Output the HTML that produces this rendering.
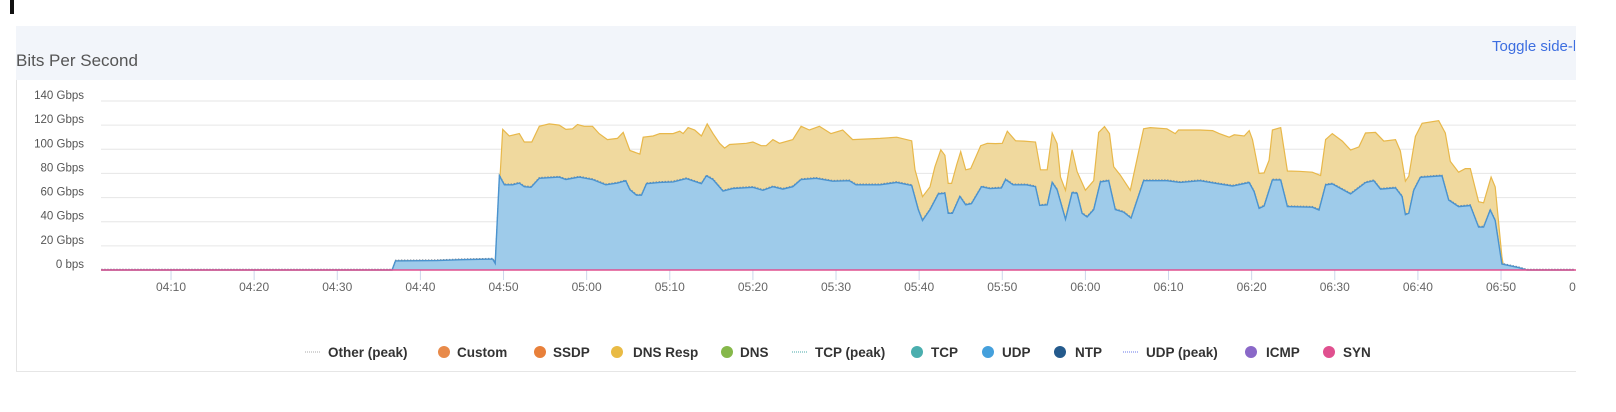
<!DOCTYPE html>
<html><head><meta charset="utf-8"><style>
html,body{margin:0;padding:0;background:#fff;}
body{width:1616px;height:412px;position:relative;overflow:hidden;font-family:"Liberation Sans",sans-serif;}
</style></head><body>
<div style="position:absolute;left:10px;top:0;width:4px;height:14px;background:#111"></div>
<div style="position:absolute;left:16px;top:26px;width:1560px;height:54px;background:#f2f5fa"></div>
<div style="position:absolute;left:16px;top:80px;width:1px;height:292px;background:#e4e4e4"></div>
<div style="position:absolute;left:16px;top:371px;width:1560px;height:1px;background:#e6e6e6"></div>
<div style="position:absolute;left:16px;top:51px;font-size:17px;color:#555">Bits Per Second</div>
<div style="position:absolute;left:1492px;top:38px;width:83px;overflow:hidden;white-space:nowrap;font-size:15px;color:#3d6ee0">Toggle side-bar</div>
<svg id="c" width="1576" height="412" style="position:absolute;left:0;top:0" xmlns="http://www.w3.org/2000/svg"></svg>
<script>
var s=document.getElementById('c');var h='';
function X(t){return 87.9+8.3125*t;}function Y(v){return 270-v*169/140;}
var lbl=['140 Gbps','120 Gbps','100 Gbps','80 Gbps','60 Gbps','40 Gbps','20 Gbps','0 bps'];
for(var i=0;i<8;i++){var y=Y(140-20*i);
 if(i<7)h+='<line x1="101" x2="1576" y1="'+y+'" y2="'+y+'" stroke="#e6e6e6"/>';
 h+='<text x="84" y="'+(y-2)+'" text-anchor="end" font-size="11.5" fill="#555" font-family="Liberation Sans">'+lbl[i]+'</text>';}
var tl=['04:10','04:20','04:30','04:40','04:50','05:00','05:10','05:20','05:30','05:40','05:50','06:00','06:10','06:20','06:30','06:40','06:50','07:00'];
for(var i=0;i<tl.length;i++){var x=X(10+10*i);
 h+='<line x1="'+x+'" x2="'+x+'" y1="270" y2="280" stroke="#ccd6eb"/>';
 h+='<text x="'+x+'" y="291" text-anchor="middle" font-size="12" fill="#666" font-family="Liberation Sans">'+tl[i]+'</text>';}
var Yw=[[1.6,0],[36.6,0],[37,7.5],[42,7.8],[45,8.5],[48.7,9],[49,5.5],[49.9,116.5],[50.7,111],[51.9,113],[52.5,106],[53.4,106],[54.3,119],[55.5,121],[56.7,120],[57.5,116.5],[58.3,117],[58.9,120.5],[59.7,119],[60.7,119],[61.5,113],[62.5,108],[63.7,109],[64.4,114],[65.2,99],[66.4,96],[66.8,110],[68,111],[68.8,113],[70.4,113],[71.2,115],[71.6,113],[72.2,118],[73,116],[73.8,111],[74.5,121],[75.2,113],[76,105],[76.6,101],[77.2,104],[79.2,105],[80,106],[81,103],[81.6,103],[82.4,108],[83.2,105],[84.8,108],[85.8,119],[86.8,116],[88,119],[89.4,113],[90.8,116],[92,108],[95.3,109],[97.3,110],[99.1,107],[99.5,83],[100.4,60.7],[101.3,68.9],[101.9,85.5],[102.6,99.6],[103.1,95],[103.5,71.7],[103.9,71.7],[104.5,87],[105,98],[105.6,83],[106.2,84],[107.4,103],[108.2,105],[109.2,104.7],[110,105],[110.6,115],[111.6,107],[112.6,106.8],[114,106],[114.6,83],[115.4,83],[116,113.5],[116.6,104.7],[117,77],[117.6,66],[118.4,99.6],[119,81.5],[120,66],[121,74],[121.6,114],[122.3,118.8],[122.9,113],[123.4,85.5],[124.2,78.6],[125.4,66],[127,117],[127.8,118],[129.8,117],[130.8,113],[131.2,116],[133.8,116],[135.3,115.5],[136.1,113],[137.3,110],[137.9,112],[139.1,111],[139.7,115.5],[140.1,108],[140.9,80],[141.5,80.4],[142.1,91],[142.5,116],[143.5,118],[144.3,82],[145.7,81.8],[147.3,81],[148.3,78.3],[148.9,108],[149.7,113],[150.9,106.8],[151.9,99.4],[152.9,102],[153.7,113.5],[154.9,114],[155.9,106.8],[157.3,108],[157.9,98.5],[158.5,73.6],[158.9,77.7],[159.7,110.7],[160.5,121.5],[162.5,123.7],[163.3,113.5],[163.9,90],[164.9,81],[165.7,84],[166.3,84],[167.3,56.6],[167.9,55.7],[168.8,77],[169.3,68.8],[170.1,11],[170.3,3],[172.1,2],[173.1,0],[178.8,0]];
var B=[[1.6,0],[36.6,0],[37,7.5],[42,7.8],[45,8.5],[48.7,9],[49,5.5],[49.5,78],[50.1,70.6],[51.1,70.6],[51.9,72],[52.5,69],[53.3,68.5],[54.3,76],[56.7,77],[57.5,75],[59.1,77],[60.7,75],[62.3,70.6],[63.7,72],[64.7,74],[65.2,66.5],[66,62],[66.6,62],[67.2,71.5],[68.8,72.6],[70.4,73],[72,75.7],[73.8,71.5],[74.4,78],[75.2,75],[76.4,65.4],[77.6,67.5],[80,68.5],[81.2,66],[82.4,69],[83.6,67],[84.8,69],[85.8,75],[87.6,76],[89.6,73.6],[91.6,74],[92.4,70.6],[95.3,70.6],[97.3,72.6],[99.1,70],[99.9,50],[100.4,41],[101.3,50],[102.3,63],[103.1,63.5],[103.5,47],[104,47],[104.9,61],[105.6,54],[106.3,55],[107.5,69],[108.5,67.4],[109.9,68],[110.4,75],[111.3,70.6],[112.9,70.6],[114,69],[114.5,53.5],[115.4,54],[116,72.6],[116.6,66.5],[117.6,42],[118.4,64],[119,63.5],[119.6,47],[120.2,44],[121,50],[121.8,73],[122.8,74],[123.6,50],[124.6,48],[125.5,43],[127,74],[129.8,74],[131.4,72.6],[133.8,74],[136.1,71.3],[137.7,69.6],[139.7,72.4],[140.3,65],[140.9,51],[141.5,53],[142.5,74.6],[143.5,74.6],[144.3,52.5],[147.3,52],[148.1,49.7],[148.9,70.5],[149.7,71.3],[151.9,63],[153.7,72.4],[154.7,74],[155.5,67],[157.3,68],[158.1,61],[158.5,45.8],[158.9,47],[159.5,66],[160.3,76.8],[162.9,78],[163.7,58],[164.9,52.5],[166.3,53.4],[167.3,35.5],[167.9,35.5],[168.7,49.7],[169.3,41],[170.1,5],[172.1,2],[173.1,0],[178.8,0]];
function line(a,dy){return a.map(function(p,i){return (i?'L':'M')+X(p[0]).toFixed(1)+','+(Y(p[1])+(dy||0)).toFixed(1);}).join('');}
function area(a){return line(a)+'L'+X(a[a.length-1][0]).toFixed(1)+',270L'+X(a[0][0]).toFixed(1)+',270Z';}
h+='<path d="'+area(Yw)+'" fill="#f0d99e"/>';
h+='<path d="'+line(Yw)+'" fill="none" stroke="#e8b84a" stroke-width="1.2"/>';
h+='<path d="'+area(B)+'" fill="#9ecbea"/>';
h+='<path d="'+line(B,-0.8)+'" fill="none" stroke="#7a8a9a" stroke-width="1" stroke-dasharray="1.5,1.5"/>';
h+='<path d="'+line(B)+'" fill="none" stroke="#4a93cf" stroke-width="1.4"/>';
h+='<line x1="101" x2="1576" y1="270" y2="270" stroke="#e0508f" stroke-width="1.5"/>';
var lg=[['l',305,328,'Other (peak)','#aaa'],['d',444,457,'Custom','#e88a4a'],['d',540,553,'SSDP','#e8803a'],['d',617,633,'DNS Resp','#e9bb45'],['d',727,740,'DNS','#86b84a'],['l',792,815,'TCP (peak)','#4aa8a8'],['d',917,931,'TCP','#4aaeae'],['d',988,1002,'UDP','#45a0dc'],['d',1060,1075,'NTP','#245a8c'],['l',1123,1146,'UDP (peak)','#6a7ae8'],['d',1251,1266,'ICMP','#8a68c8'],['d',1329,1343,'SYN','#e0508f']];
lg.forEach(function(g){
 if(g[0]=='d')h+='<circle cx="'+g[1]+'" cy="352" r="6" fill="'+g[4]+'"/>';
 else h+='<line x1="'+g[1]+'" x2="'+(g[1]+16)+'" y1="352" y2="352" stroke="'+g[4]+'" stroke-dasharray="1,1"/>';
 h+='<text x="'+g[2]+'" y="357" font-size="13.5" font-weight="bold" fill="#333" font-family="Liberation Sans">'+g[3]+'</text>';});
s.innerHTML=h;
</script>
</body></html>
